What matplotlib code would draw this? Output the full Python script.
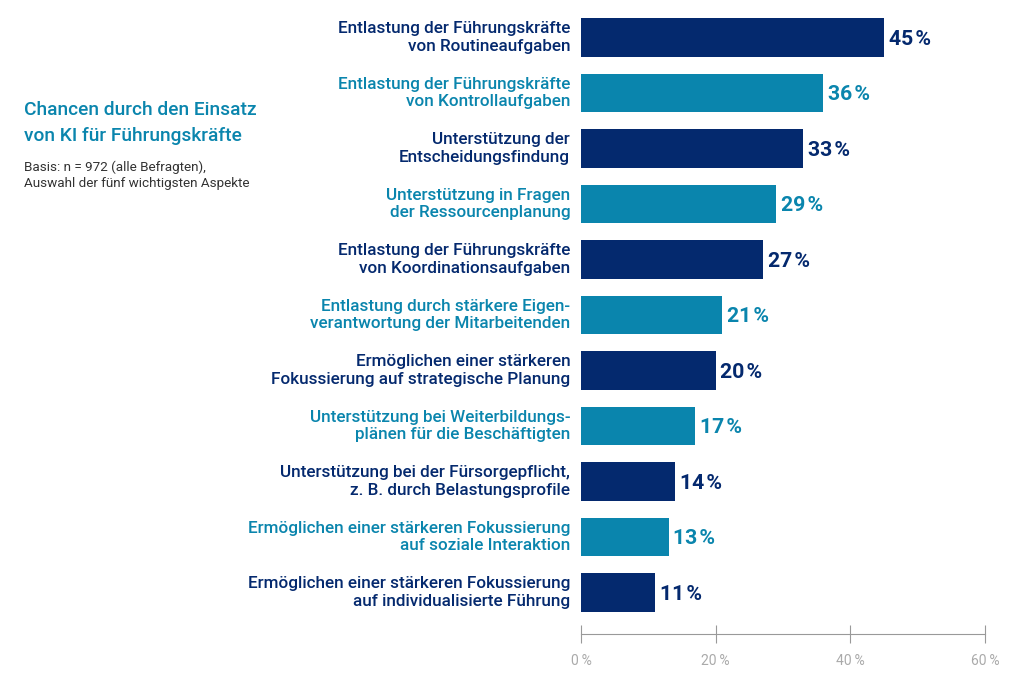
import matplotlib.pyplot as plt
import numpy as np

plt.rcParams['font.family'] = ['Roboto', 'DejaVu Sans']

labels = ['Entlastung der Führungskräfte\nvon Routineaufgaben',
          'Entlastung der Führungskräfte\nvon Kontrollaufgaben',
          'Unterstützung der\nEntscheidungsfindung',
          'Unterstützung in Fragen\nder Ressourcenplanung',
          'Entlastung der Führungskräfte\nvon Koordinationsaufgaben',
          'Entlastung durch stärkere Eigen-\nverantwortung der Mitarbeitenden',
          'Ermöglichen einer stärkeren\nFokussierung auf strategische Planung',
          'Unterstützung bei Weiterbildungs-\nplänen für die Beschäftigten',
          'Unterstützung bei der Fürsorgepflicht,\nz. B. durch Belastungsprofile',
          'Ermöglichen einer stärkeren Fokussierung\nauf soziale Interaktion',
          'Ermöglichen einer stärkeren Fokussierung\nauf individualisierte Führung']
values = [45, 36, 33, 29, 27, 21, 20, 17, 14, 13, 11]
ticks = [0, 20, 40, 60]

navy = '#04296e'
teal = '#0a85ad'
colors = [navy if i % 2 == 0 else teal for i in range(len(values))]

fig = plt.figure(figsize=(10.24, 6.77), dpi=100)
ax = fig.add_axes([581/1024, 1-634/677, 404/1024, 624/677])

y = np.arange(len(values))
ax.barh(y, values, height=0.69, color=colors)
ax.set_xlim(0, 60)
ax.set_ylim(10.75, -0.495)

for i, (v, c) in enumerate(zip(values, colors)):
    ax.text(v + 0.7, i + 0.03, f'{v}\u200a%', color=c, fontsize=15.3, fontweight='bold',
            va='center', ha='left')
    ax.text(-1.6, i, labels[i], color=c, fontsize=12.3, fontweight='medium',
            va='center', ha='right', linespacing=1.2)

for s in ['top', 'right', 'left']:
    ax.spines[s].set_visible(False)
ax.spines['bottom'].set_color('#999999')
ax.set_yticks([])
ax.set_xticks(ticks)
ax.set_xticklabels([f'{t}\u2009%' for t in ticks])
ax.tick_params(axis='x', direction='inout', length=13, color='#999999',
               labelcolor='#aaaaaa', labelsize=10, pad=8)

fig.text(24/1024, 1-123/677, 'Chancen durch den Einsatz\nvon KI für Führungskräfte',
         color=teal, fontsize=13.8, fontweight='medium', va='center', ha='left',
         linespacing=1.6)
fig.text(24/1024, 1-175/677, 'Basis: n = 972 (alle Befragten),\nAuswahl der fünf wichtigsten Aspekte',
         color='#333333', fontsize=9.7, va='center', ha='left', linespacing=1.3)

fig.savefig('out.png', dpi=100)
